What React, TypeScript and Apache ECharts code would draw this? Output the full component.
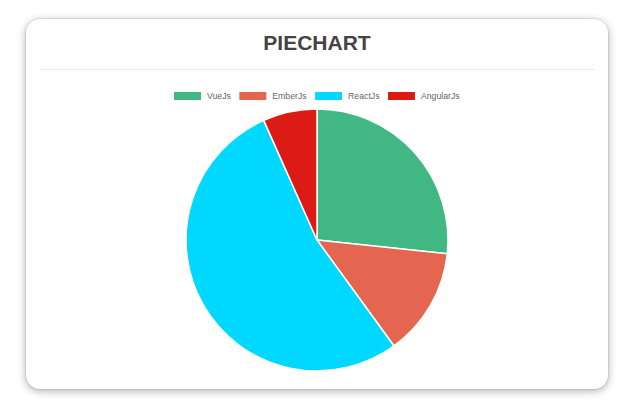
import { useEffect, useRef } from "react";
import * as echarts from "echarts";

const frameworks = ["VueJs", "EmberJs", "ReactJs", "AngularJs"];
const counts = [40, 20, 80, 10];
const colors = ["#41B883", "#E46651", "#00D8FF", "#DD1B16"];

const FONT = '"Liberation Sans", Arial, Helvetica, sans-serif';

export default function App() {
  const chartRef = useRef<HTMLDivElement>(null);

  useEffect(() => {
    if (!chartRef.current) return;
    const chart = echarts.init(chartRef.current, undefined, { renderer: "svg" });

    chart.setOption({
      animation: false,
      backgroundColor: "transparent",
      title: {
        text: "PIECHART",
        left: 317,
        textAlign: "center",
        top: 32,
        padding: 0,
        textStyle: { fontFamily: FONT, fontSize: 21, fontWeight: "bold", color: "#444" },
      },
      graphic: [
        {
          type: "line",
          shape: { x1: 40, y1: 69.5, x2: 595, y2: 69.5 },
          style: { stroke: "#ececec", lineWidth: 1 },
          silent: true,
        },
      ],
      legend: {
        left: 172,
        top: 90,
        padding: 0,
        icon: "rect",
        itemWidth: 29,
        itemHeight: 10,
        itemGap: 6.5,
        textStyle: { fontFamily: FONT, fontSize: 8.7, color: "#666" },
        data: frameworks,
      },
      series: [
        {
          type: "pie",
          center: [317, 240],
          radius: 131,
          startAngle: 90,
          clockwise: true,
          label: { show: false },
          labelLine: { show: false },
          emphasis: { disabled: true },
          itemStyle: { borderColor: "#fff", borderWidth: 1.5 },
          data: frameworks.map((name, i) => ({
            name,
            value: counts[i],
            itemStyle: { color: colors[i] },
          })),
        },
      ],
    });

    return () => chart.dispose();
  }, []);

  return (
    <div
      style={{
        position: "fixed",
        left: 0,
        top: 0,
        width: 640,
        height: 413,
        background: "#fff",
        overflow: "hidden",
      }}
    >
      <div
        style={{
          position: "absolute",
          left: 26,
          top: 19,
          width: 582,
          height: 370,
          borderRadius: 14,
          background: "#fff",
          boxShadow: "0 0 0 1px rgba(0,0,0,0.07), 0 2px 9px rgba(0,0,0,0.32)",
        }}
      />
      <div ref={chartRef} style={{ position: "absolute", left: 0, top: 0, width: 640, height: 413 }} />
    </div>
  );
}
